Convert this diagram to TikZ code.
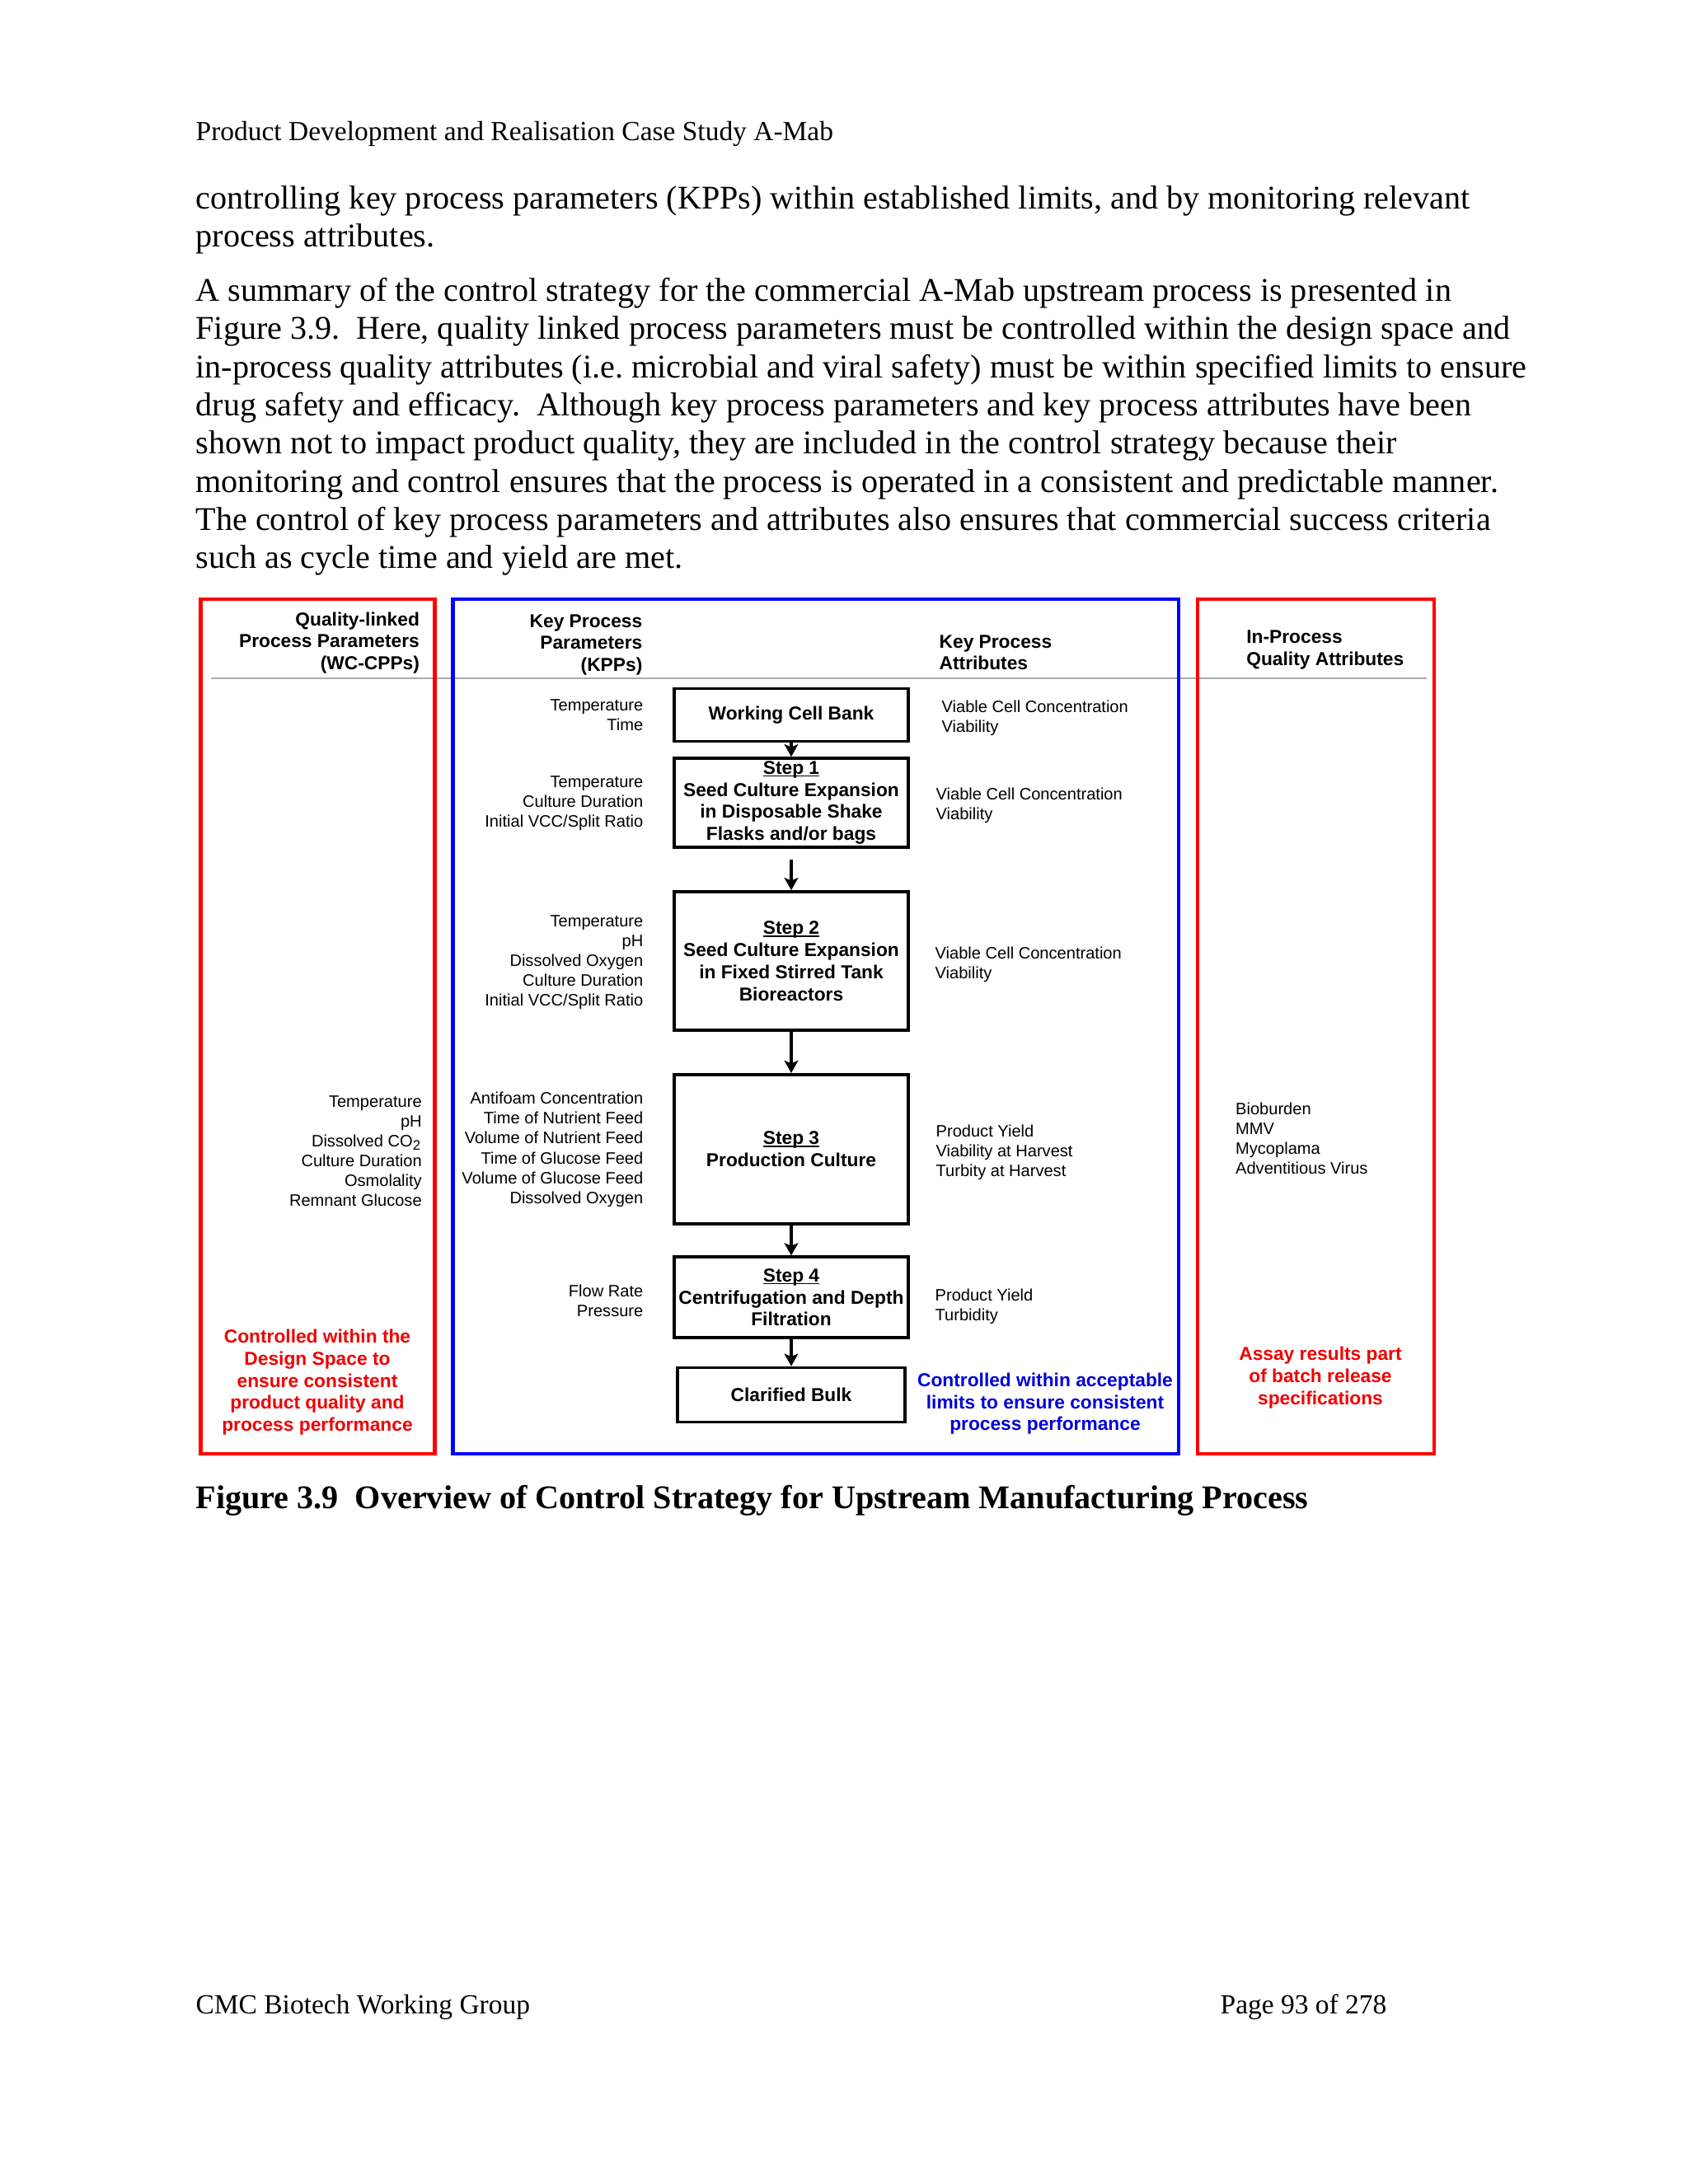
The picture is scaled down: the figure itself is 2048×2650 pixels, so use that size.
\documentclass[tikz,border=0pt]{standalone}
\usepackage{fontspec}
\setmainfont{Liberation Serif}
\setsansfont{Liberation Sans}
\usetikzlibrary{arrows.meta}
\frenchspacing
\def\pxu{0.29883pt}
\newcommand\stepul[1]{\setbox0\hbox{#1}\rlap{\rule[-0.9pt]{\wd0}{0.5pt}}\box0}
\definecolor{frred}{RGB}{255,0,0}
\definecolor{frblue}{RGB}{0,0,255}
\definecolor{txtblue}{RGB}{0,0,215}
\definecolor{txtred}{RGB}{240,0,0}
\begin{document}
\begin{tikzpicture}[x=0.29883pt,y=-0.29883pt,
  body/.style={font=\fontsize{12}{13.8}\selectfont, anchor=base west, inner sep=0pt},
  pagetxt/.style={font=\fontsize{10}{12}\selectfont, inner sep=0pt},
  hdr/.style={font=\sffamily\bfseries\fontsize{6.8}{8}\selectfont, inner sep=0pt},
  lst/.style={font=\sffamily\fontsize{6}{7.2}\selectfont, inner sep=0pt},
  lstR/.style={lst, anchor=base east},
  lstL/.style={lst, anchor=base west},
  stepbox/.style={draw, line width=1.1pt, font=\sffamily\bfseries\fontsize{6.8}{8}\selectfont,
     align=center, inner sep=0pt, minimum width={284*\pxu}},
  arr/.style={-{Stealth[length=4.5pt,width=5pt,inset=1pt]}, line width=1pt},
  frame/.style={line width=1.2pt}
]
\fill[white] (0,0) rectangle (2048,2650);
\useasboundingbox (0,0) rectangle (2048,2650);

% page header / body text
\node[pagetxt, anchor=base west] (pghead) at (237,170.7) {Product Development and Realisation Case Study A-Mab};
\node[body] (b1) at (237,253.5) {controlling key process parameters (KPPs) within established limits, and by monitoring relevant};
\node[body] (b2) at (237,299.8) {process attributes.};
\node[body] (b3) at (237,365.5) {A summary of the control strategy for the commercial A-Mab upstream process is presented in};
\node[body] (b4) at (237,411.8) {Figure 3.9.\ \ Here, quality linked process parameters must be controlled within the design space and};
\node[body] (b5) at (237,458.1) {in-process quality attributes (i.e. microbial and viral safety) must be within specified limits to ensure};
\node[body] (b6) at (237,504.4) {drug safety and efficacy.\ \ Although key process parameters and key process attributes have been};
\node[body] (b7) at (237,550.7) {shown not to impact product quality, they are included in the control strategy because their};
\node[body] (b8) at (237,597.0) {monitoring and control ensures that the process is operated in a consistent and predictable manner.};
\node[body] (b9) at (237,643.3) {The control of key process parameters and attributes also ensures that commercial success criteria};
\node[body] (b10) at (237,689.6) {such as cycle time and yield are met.};

% separator line
\draw[gray!65, line width=0.5pt] (256,823) -- (1731,823);

% frames
\draw[frame, frred] (243.5,727) rectangle (527.5,1764);
\draw[frame, frblue] (549.5,727) rectangle (1430,1764);
\draw[frame, frred] (1453,727) rectangle (1739.5,1764);

% column headers
\node[hdr, align=right, anchor=east] (hq) at (509.6,780) {Quality-linked\\Process Parameters\\(WC-CPPs)};
\node[hdr, align=right, anchor=east] (hk) at (780,782.3) {Key Process\\Parameters\\(KPPs)};
\node[hdr, align=left, anchor=west] (ha) at (1139,791.7) {Key Process\\Attributes};
\node[hdr, align=left, anchor=west] (hi) at (1511.7,788.3) {In-Process\\Quality Attributes};

% process boxes
\node[stepbox, minimum height={64*\pxu}] (wcb) at (960,867.5) {Working Cell Bank};
\node[stepbox, minimum height={108*\pxu}] (s1) at (960,974) {\stepul{Step 1}\\Seed Culture Expansion\\in Disposable Shake\\Flasks and/or bags};
\node[stepbox, minimum height={168*\pxu}] (s2) at (960,1166) {\stepul{Step 2}\\Seed Culture Expansion\\in Fixed Stirred Tank\\Bioreactors};
\node[stepbox, minimum height={181*\pxu}] (s3) at (960,1394.3) {\stepul{Step 3}\\Production Culture};
\node[stepbox, minimum height={98*\pxu}] (s4) at (960,1574.2) {\stepul{Step 4}\\Centrifugation and Depth\\Filtration};
\node[stepbox, minimum height={66*\pxu}, minimum width={276*\pxu}] (cb) at (960,1692.5) {Clarified Bulk};

\draw[arr] (wcb) -- (s1);
\draw[arr, shorten <=4pt] (s1) -- (s2);
\draw[arr] (s2) -- (s3);
\draw[arr] (s3) -- (s4);
\draw[arr] (s4) -- (cb);

% WC-CPPs
\foreach \t [count=\i from 0] in {Temperature,pH,Dissolved CO\textsubscript{2},Culture Duration,Osmolality,Remnant Glucose}
  \node[lstR] (wc\i) at (512.4,{1343+24.1*\i}) {\t};

% KPPs
\foreach \t [count=\i from 0] in {Temperature,Time}
  \node[lstR] (kw\i) at (781,{862+24.2*\i}) {\t};
\foreach \t [count=\i from 0] in {Temperature,Culture Duration,Initial VCC/Split Ratio}
  \node[lstR] (ka\i) at (781,{955+24.2*\i}) {\t};
\foreach \t [count=\i from 0] in {Temperature,pH,Dissolved Oxygen,Culture Duration,Initial VCC/Split Ratio}
  \node[lstR] (kb\i) at (781,{1124+24.2*\i}) {\t};
\foreach \t [count=\i from 0] in {Antifoam Concentration,Time of Nutrient Feed,Volume of Nutrient Feed,Time of Glucose Feed,Volume of Glucose Feed,Dissolved Oxygen}
  \node[lstR] (kc\i) at (781,{1339.5+24.2*\i}) {\t};
\foreach \t [count=\i from 0] in {Flow Rate,Pressure}
  \node[lstR] (kd\i) at (781,{1573+24.2*\i}) {\t};

% KPAs
\foreach \t [count=\i from 0] in {Viable Cell Concentration,Viability}
  \node[lstL] (aw\i) at (1142,{864.5+24.2*\i}) {\t};
\foreach \t [count=\i from 0] in {Viable Cell Concentration,Viability}
  \node[lstL] (aa\i) at (1135,{970.5+24.2*\i}) {\t};
\foreach \t [count=\i from 0] in {Viable Cell Concentration,Viability}
  \node[lstL] (ab\i) at (1134,{1163+24.2*\i}) {\t};
\foreach \t [count=\i from 0] in {Product Yield,Viability at Harvest,Turbity at Harvest}
  \node[lstL] (ac\i) at (1135,{1379+24.2*\i}) {\t};
\foreach \t [count=\i from 0] in {Product Yield,Turbidity}
  \node[lstL] (ad\i) at (1134,{1578+24.2*\i}) {\t};

% In-process QAs
\foreach \t [count=\i from 0] in {Bioburden,MMV,Mycoplama,Adventitious Virus}
  \node[lstL] (iq\i) at (1498.5,{1352+24.1*\i}) {\t};

% coloured notes
\node[hdr, text=txtred, align=center] (noteL) at (385,1677.3) {Controlled within the\\Design Space to\\ensure consistent\\product quality and\\process performance};
\node[hdr, text=txtblue, align=center] (noteM) at (1268,1703.3) {Controlled within acceptable\\limits to ensure consistent\\process performance};
\node[hdr, text=txtred, align=center] (noteR) at (1602,1671.7) {Assay results part\\of batch release\\specifications};

% caption and footer
\node[font=\bfseries\fontsize{12}{13.8}\selectfont, anchor=base west, inner sep=0pt] (cap) at (237,1830) {Figure 3.9\ \ Overview of Control Strategy for Upstream Manufacturing Process};
\node[pagetxt, anchor=base west] (footL) at (237,2443.5) {CMC Biotech Working Group};
\node[pagetxt, anchor=base east] (footR) at (1683,2443.5) {Page 93 of 278};
\end{tikzpicture}
\end{document}
